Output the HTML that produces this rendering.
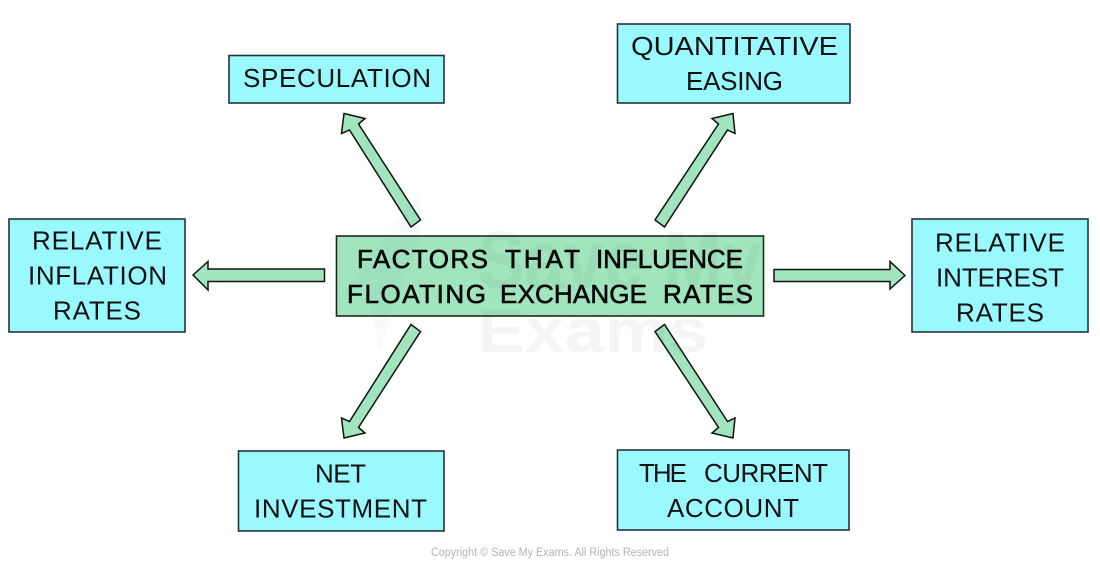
<!DOCTYPE html>
<html>
<head>
<meta charset="utf-8">
<style>
html,body{margin:0;padding:0;background:#fff;width:1100px;height:570px;overflow:hidden}
svg{display:block}
text{font-family:"Liberation Sans",sans-serif}
.t{font-size:26px;fill:#111}
.m{font-size:26px;fill:#050505;stroke:#050505;stroke-width:.6px}
.b{fill:#99f9ff;stroke:#263238;stroke-width:1.6}
.a{fill:#a0e5bd;stroke:#111;stroke-width:1.5;stroke-linejoin:miter}
</style>
</head>
<body>
<svg width="1100" height="570" viewBox="0 0 1100 570" xmlns="http://www.w3.org/2000/svg">
<!-- boxes -->
<rect class="b" x="229" y="55.500" width="215" height="47.500"/>
<rect class="b" x="617.500" y="24" width="232.500" height="79"/>
<rect class="b" x="9" y="219" width="176" height="113"/>
<rect class="b" x="912" y="219" width="176" height="113"/>
<rect class="b" x="238.500" y="451" width="205.500" height="80"/>
<rect class="b" x="617.500" y="450" width="231.500" height="80"/>
<rect x="336.500" y="236" width="427" height="80" fill="#a0e5bd" stroke="#1c2b24" stroke-width="1.6"/>

<!-- arrows -->
<polygon class="a" points="344,113.500 365,118.500 358.500,124 420.500,220 411,227 349.500,130 341.500,133.500"/>
<polygon class="a" points="733,113.500 712,118.500 718.500,124 655,220 664.500,227 727.500,130 735,133.500"/>
<polygon class="a" points="344,438 365,433 358.500,427.500 420.500,331.500 411,324.500 349.500,421.500 341.500,418"/>
<polygon class="a" points="733,438 712,433 718.500,427.500 655,331.500 664.500,324.500 727.500,421.500 735,418"/>
<polygon class="a" points="193,275 208,261.500 208,269 324.500,269 324.500,281.500 208,281.500 208,290"/>
<polygon class="a" points="905,275.500 890,261.500 890,269.500 774,269.500 774,281.500 890,281.500 890,289"/>

<!-- watermark -->
<polygon points="420,190 338,300 365,285 380,350 395,300 420,240" fill="#3050e0" opacity=".03"/>
<text x="477" y="288" font-size="82" font-weight="700" fill="#000" opacity=".035" textLength="285" lengthAdjust="spacingAndGlyphs">Save My</text>
<text x="477" y="352" font-size="62" font-weight="700" fill="#000" opacity=".035" textLength="231" lengthAdjust="spacingAndGlyphs">Exams</text>

<!-- labels -->
<text class="t" x="243" y="87" textLength="188" lengthAdjust="spacing">SPECULATION</text>
<text class="t" x="631" y="55" textLength="207" lengthAdjust="spacingAndGlyphs">QUANTITATIVE</text>
<text class="t" x="686" y="90" textLength="97" lengthAdjust="spacing">EASING</text>
<text class="t" x="32" y="249.500" textLength="130" lengthAdjust="spacing">RELATIVE</text>
<text class="t" x="28" y="284.500" textLength="139" lengthAdjust="spacing">INFLATION</text>
<text class="t" x="53" y="319.500" textLength="88" lengthAdjust="spacing">RATES</text>
<text class="t" x="935" y="251.500" textLength="130" lengthAdjust="spacing">RELATIVE</text>
<text class="t" x="936" y="286.500" textLength="128" lengthAdjust="spacing">INTEREST</text>
<text class="t" x="956" y="321.500" textLength="88" lengthAdjust="spacing">RATES</text>
<text class="t" x="315" y="482.500" textLength="51" lengthAdjust="spacing">NET</text>
<text class="t" x="254" y="517.500" textLength="173" lengthAdjust="spacing">INVESTMENT</text>
<text class="t" x="639" y="482" textLength="48" lengthAdjust="spacing">THE</text>
<text class="t" x="704" y="482" textLength="124" lengthAdjust="spacing">CURRENT</text>
<text class="t" x="667" y="517" textLength="132" lengthAdjust="spacing">ACCOUNT</text>

<text class="m" x="357" y="268" textLength="131" lengthAdjust="spacing">FACTORS</text>
<text class="m" x="505" y="268" textLength="75" lengthAdjust="spacing">THAT</text>
<text class="m" x="596" y="268" textLength="147" lengthAdjust="spacing">INFLUENCE</text>
<text class="m" x="347" y="303" textLength="139" lengthAdjust="spacing">FLOATING</text>
<text class="m" x="500" y="303" textLength="147" lengthAdjust="spacing">EXCHANGE</text>
<text class="m" x="663" y="303" textLength="90" lengthAdjust="spacing">RATES</text>

<text x="431" y="556" font-size="11.500" fill="#b4b4b4" textLength="238" lengthAdjust="spacingAndGlyphs">Copyright © Save My Exams. All Rights Reserved</text>
</svg>
</body>
</html>
